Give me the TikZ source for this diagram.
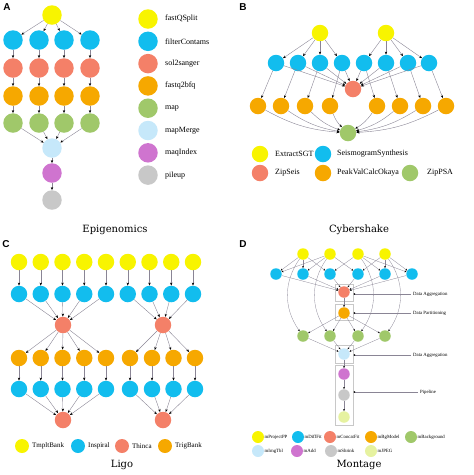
\documentclass[tikz,border=0pt]{standalone}
\usepackage{fontspec}
\setmainfont{Liberation Serif}
\newfontfamily\titlefont{DejaVu Serif}
\newfontfamily\panelfont{Liberation Sans}
\usetikzlibrary{arrows.meta}

\definecolor{cyel}{HTML}{F8F400}
\definecolor{cblue}{HTML}{12BDEE}
\definecolor{csal}{HTML}{F48068}
\definecolor{corange}{HTML}{F6A800}
\definecolor{cgreen}{HTML}{A0C86A}
\definecolor{clblue}{HTML}{C6E8FA}
\definecolor{cpurple}{HTML}{CF74CF}
\definecolor{cgray}{HTML}{C8C8C8}
\definecolor{clyel}{HTML}{E6F2A0}
\definecolor{edgegray}{HTML}{8A8595}

\begin{document}
\begin{tikzpicture}[x=1pt, y=-1pt,
    job/.style={shape=circle, inner sep=0pt, minimum size=#1},
    job/.default=16.5pt,
    edge/.style={draw=edgegray, line width=0.4pt, -{Stealth[length=3pt, width=2.4pt, black]}},
    edgeD/.style={draw=edgegray, line width=0.3pt, -{Stealth[length=2pt, width=1.8pt, black]}},
    legtext/.style={anchor=west, inner sep=0pt, font=\fontsize{8}{9}\selectfont},
    legsmall/.style={anchor=west, inner sep=0pt, font=\fontsize{4.8}{5}\selectfont},
    title/.style={inner sep=0pt, font=\titlefont\fontsize{10}{12}\selectfont},
    panel/.style={inner sep=0pt, font=\panelfont\bfseries\fontsize{10}{12}\selectfont},
    stagebox/.style={draw=cgray, line width=0.5pt, inner sep=0pt, minimum width=18pt}]
    \useasboundingbox (0,0) rectangle (474,475);

    % A: Epigenomics
    \node[panel] (PA) at (7,7) {A};
    \node[job=19.5pt, fill=cyel] (Ay) at (52,15) {};
    \foreach \i/\x in {1/13,2/39,3/64,4/90} {
        \node[job=19.5pt, fill=cblue] (Ab\i) at (\x,40) {};
        \node[job=19.5pt, fill=csal] (As\i) at (\x,68) {};
        \node[job=19.5pt, fill=corange] (Ao\i) at (\x,96) {};
        \node[job=19.5pt, fill=cgreen] (Ag\i) at (\x,123) {};
    }
    \node[job=19.5pt, fill=clblue] (Am) at (52,148) {};
    \node[job=19.5pt, fill=cpurple] (Aq) at (52,173) {};
    \node[job=19.5pt, fill=cgray] (Apile) at (52,200) {};
    \foreach \i in {1,...,4} {
        \draw[edge] (Ay) -- (Ab\i);
        \draw[edge] (Ab\i) -- (As\i);
        \draw[edge] (As\i) -- (Ao\i);
        \draw[edge] (Ao\i) -- (Ag\i);
        \draw[edge] (Ag\i) -- (Am);
    }
    \draw[edge] (Am) -- (Aq);
    \draw[edge] (Aq) -- (Apile);
    \foreach \c/\t [count=\k from 0] in {cyel/fastQSplit, cblue/filterContams, csal/sol2sanger,
        corange/fastq2bfq, cgreen/map, clblue/mapMerge, cpurple/maqIndex, cgray/pileup} {
        \node[job=19.5pt, fill=\c] (La\k) at (148,{19+22.3*\k}) {};
        \node[legtext] (Lta\k) at (165,{19+22.3*\k}) {\t};
    }
    \node[title] (Tepi) at (115,230) {Epigenomics};

    % B: Cybershake
    \node[panel] (PB) at (243,7) {B};
    \node[job, fill=cyel] (By1) at (320,33) {};
    \node[job, fill=cyel] (By2) at (386,33) {};
    \foreach \i/\x in {1/276,2/298,3/320,4/342,5/364,6/386,7/408,8/429}
        \node[job, fill=cblue] (Bb\i) at (\x,63) {};
    \node[job, fill=csal] (Bz) at (353,89) {};
    \foreach \i/\x in {1/258,2/281,3/305,4/330,5/377,6/400,7/423,8/446}
        \node[job, fill=corange] (Bo\i) at (\x,106) {};
    \node[job, fill=cgreen] (Bp) at (348,133) {};
    \foreach \i in {1,...,4} \draw[edge] (By1) -- (Bb\i);
    \foreach \i in {5,...,8} \draw[edge] (By2) -- (Bb\i);
    \foreach \i in {1,...,8} {
        \draw[edge] (Bb\i) -- (Bz);
        \draw[edge] (Bb\i) -- (Bo\i);
    }
    \foreach \i in {1,...,4} \draw[edge] (Bo\i) to[bend right=12] (Bp);
    \foreach \i in {5,...,8} \draw[edge] (Bo\i) to[bend left=12] (Bp);
    \node[job, fill=cyel] (Lb1) at (260,154) {};
    \node[legtext] (Ltb1) at (275,154) {ExtractSGT};
    \node[job, fill=cblue] (Lb2) at (323,154) {};
    \node[legtext] (Ltb2) at (337,154) {SeismogramSynthesis};
    \node[job, fill=csal] (Lb3) at (260,173) {};
    \node[legtext] (Ltb3) at (275,173) {ZipSeis};
    \node[job, fill=corange] (Lb4) at (323,173) {};
    \node[legtext] (Ltb4) at (337,173) {PeakValCalcOkaya};
    \node[job, fill=cgreen] (Lb5) at (410,173) {};
    \node[legtext] (Ltb5) at (427,173) {ZipPSA};
    \node[title] (Tcyb) at (359,230) {Cybershake};

    % C: Ligo
    \node[panel] (PC) at (6,244) {C};
    \foreach \i in {1,...,9} {
        \pgfmathsetmacro\xc{19+21.75*(\i-1)}
        \node[job, fill=cyel] (Cy\i) at (\xc,262) {};
        \node[job, fill=cblue] (Cb\i) at (\xc,294) {};
        \draw[edge] (Cy\i) -- (Cb\i);
    }
    \node[job, fill=csal] (Ct1) at (63,325) {};
    \node[job, fill=csal] (Ct2) at (163,325) {};
    \foreach \i/\x in {1/19,2/40.75,3/62.5,4/84.25,5/106,6/130,7/152,8/173.5,9/195} {
        \node[job, fill=corange] (Co\i) at (\x,358) {};
        \node[job, fill=cblue] (Cc\i) at (\x,389) {};
        \draw[edge] (Co\i) -- (Cc\i);
    }
    \node[job, fill=csal] (Cz1) at (63,420) {};
    \node[job, fill=csal] (Cz2) at (163,420) {};
    \foreach \i in {1,...,5} {
        \draw[edge] (Cb\i) -- (Ct1);
        \draw[edge] (Ct1) -- (Co\i);
        \draw[edge] (Cc\i) -- (Cz1);
    }
    \foreach \i in {6,...,9} {
        \draw[edge] (Cb\i) -- (Ct2);
        \draw[edge] (Ct2) -- (Co\i);
        \draw[edge] (Cc\i) -- (Cz2);
    }
    \foreach \c/\t/\x [count=\k] in {cyel/TmpltBank/22, cblue/Inspiral/78, csal/Thinca/122, corange/TrigBank/165} {
        \node[job=14pt, fill=\c] (Lc\k) at (\x,446) {};
        \node[legtext, font=\fontsize{7}{8}\selectfont] (Ltc\k) at (\x+10,446) {\t};
    }
    \node[title] (Tligo) at (122,465) {Ligo};

    % D: Montage
    \node[panel] (PD) at (243,244) {D};
    \node[stagebox, minimum height=17pt] (Bx1) at (344,292.5) {};
    \node[stagebox, minimum height=16pt] (Bx2) at (344,312.5) {};
    \node[stagebox, minimum height=18pt] (Bx3) at (344,354) {};
    \node[stagebox, minimum height=60pt] (Bx4) at (344,395.5) {};
    \foreach \i/\x in {1/303,2/330,3/358,4/385} {
        \node[job=11.5pt, fill=cyel] (Dy\i) at (\x,254) {};
        \node[job=11.5pt, fill=cgreen] (Dg\i) at (\x,336) {};
    }
    \foreach \i/\x in {1/276,2/303,3/330,4/358,5/385,6/412}
        \node[job=11.5pt, fill=cblue] (Db\i) at (\x,274) {};
    \node[job=11.5pt, fill=csal] (Dc) at (344,292) {};
    \node[job=11.5pt, fill=corange] (Do) at (344,313) {};
    \node[job=11.5pt, fill=clblue] (Dt) at (344,354) {};
    \node[job=11.5pt, fill=cpurple] (Da) at (344,374) {};
    \node[job=11.5pt, fill=cgray] (Ds) at (344,395) {};
    \node[job=11.5pt, fill=clyel] (Dj) at (344,417) {};
    % projections to the difference fits
    \foreach \y/\b in {1/1,2/1,1/2,2/2,1/3,3/3,2/4,4/4,3/5,4/5,3/6,4/6}
        \draw[edgeD] (Dy\y) -- (Db\b);
    \foreach \i in {1,...,6} \draw[edgeD] (Db\i) -- (Dc);
    \draw[edgeD] (Dc) -- (Do);
    \foreach \i in {1,...,4} {
        \draw[edgeD] (Do) -- (Dg\i);
        \draw[edgeD] (Dg\i) -- (Dt);
    }
    \draw[edgeD] (Dy1) to[bend right=35] (Dg1);
    \draw[edgeD] (Dy2) to[bend right=35] (Dg2);
    \draw[edgeD] (Dy3) to[bend left=35] (Dg3);
    \draw[edgeD] (Dy4) to[bend left=35] (Dg4);
    \draw[edgeD] (Dt) -- (Da);
    \draw[edgeD] (Da) -- (Ds);
    \draw[edgeD] (Ds) -- (Dj);
    \node[legsmall] (N1) at (413,294) {Data Aggregation};
    \node[legsmall] (N2) at (413,313) {Data Partitioning};
    \node[legsmall] (N3) at (413,355) {Data Aggregation};
    \node[legsmall] (N4) at (420,392) {Pipeline};
    \draw[edgeD] (N1.west) ++(-2,0) -- (N1.west -| Bx1.east);
    \draw[edgeD] (N2.west) ++(-2,0) -- (N2.west -| Bx2.east);
    \draw[edgeD] (N3.west) ++(-2,0) -- (N3.west -| Bx3.east);
    \draw[edgeD] (N4.west) ++(-2,0) -- (N4.west -| Bx4.east);
    \foreach \c/\t/\x [count=\k] in {cyel/mProjectPP/258, cblue/mDiffFit/298, csal/mConcatFit/330,
        corange/mBgModel/371, cgreen/mBackground/411} {
        \node[job=12pt, fill=\c] (Ld\k) at (\x,437) {};
        \node[legsmall] (Ltd\k) at (\x+6.5,437) {\t};
    }
    \foreach \c/\t/\x [count=\k from 6] in {clblue/mImgTbl/258, cpurple/mAdd/297, cgray/mShrink/331, clyel/mJPEG/371} {
        \node[job=12pt, fill=\c] (Ld\k) at (\x,451) {};
        \node[legsmall] (Ltd\k) at (\x+6.5,451) {\t};
    }
    \node[title] (Tmon) at (359,465) {Montage};
\end{tikzpicture}
\end{document}
